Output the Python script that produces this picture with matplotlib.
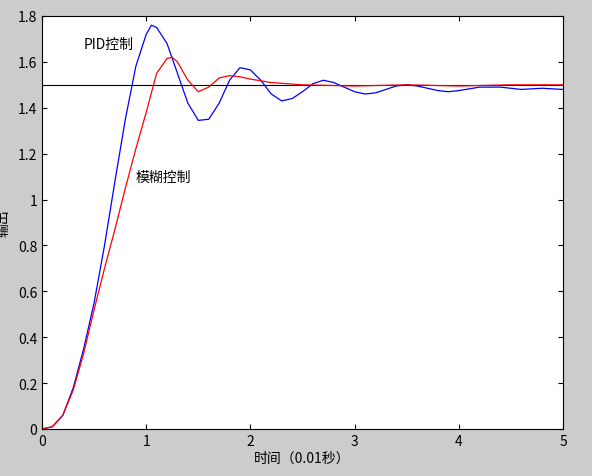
import matplotlib
matplotlib.use("Agg")
import matplotlib.pyplot as plt

plt.rcParams['font.family'] = ['Noto Sans CJK SC', 'DejaVu Sans']

t_pid = [0, 0.1, 0.2, 0.3, 0.4, 0.5, 0.6, 0.7, 0.8, 0.9, 1.0, 1.05, 1.1, 1.2, 1.3, 1.4, 1.5,
         1.6, 1.7, 1.8, 1.9, 2.0, 2.1, 2.2, 2.3, 2.4, 2.5, 2.6, 2.7, 2.8, 2.9, 3.0, 3.1,
         3.2, 3.3, 3.4, 3.5, 3.6, 3.7, 3.8, 3.9, 4.0, 4.2, 4.4, 4.6, 4.8, 5.0]
y_pid = [0, 0.01, 0.06, 0.18, 0.35, 0.55, 0.80, 1.08, 1.35, 1.58, 1.72, 1.76, 1.75, 1.68,
         1.55, 1.42, 1.345, 1.35, 1.42, 1.52, 1.575, 1.565, 1.52, 1.46, 1.43, 1.44, 1.47,
         1.505, 1.52, 1.51, 1.49, 1.47, 1.46, 1.465, 1.48, 1.495, 1.50, 1.495, 1.485,
         1.475, 1.47, 1.475, 1.49, 1.49, 1.48, 1.485, 1.48]

t_fuzzy = [0, 0.1, 0.2, 0.3, 0.4, 0.5, 0.6, 0.7, 0.8, 0.9, 1.0, 1.1, 1.2, 1.25, 1.3, 1.4,
           1.5, 1.6, 1.7, 1.8, 1.9, 2.0, 2.2, 2.5, 3.0, 3.5, 4.0, 4.5, 5.0]
y_fuzzy = [0, 0.01, 0.06, 0.17, 0.33, 0.52, 0.70, 0.87, 1.05, 1.22, 1.38, 1.55, 1.615,
           1.62, 1.60, 1.52, 1.47, 1.49, 1.53, 1.54, 1.535, 1.525, 1.51, 1.50, 1.495,
           1.50, 1.495, 1.50, 1.50]

setpoint = 1.5

fig = plt.figure(figsize=(5.92, 4.77), dpi=100, facecolor='#cccccc')
ax = fig.add_axes([42/592, 47/477, 521/592, 413/477])
ax.axhline(setpoint, color='k', lw=0.8)
ax.plot(t_pid, y_pid, color='b', lw=0.9)
ax.plot(t_fuzzy, y_fuzzy, color='r', lw=0.9)
ax.text(0.4, 1.66, 'PID控制', fontsize=10)
ax.text(0.9, 1.08, '模糊控制', fontsize=10)
ax.set_xlim(0, 5)
ax.set_ylim(0, 1.8)
ax.set_xticks([0, 1, 2, 3, 4, 5])
ax.set_yticks([0, 0.2, 0.4, 0.6, 0.8, 1, 1.2, 1.4, 1.6, 1.8])
ax.set_yticklabels(['0', '0.2', '0.4', '0.6', '0.8', '1', '1.2', '1.4', '1.6', '1.8'])
ax.tick_params(direction='in', top=True, right=True, labelsize=10)
ax.set_xlabel('时间（0.01秒）', fontsize=10, labelpad=2)
ax.set_ylabel('输出', fontsize=10)
ax.yaxis.set_label_coords(-0.06, 0.5)
fig.savefig('out.png', dpi=100, facecolor=fig.get_facecolor())
